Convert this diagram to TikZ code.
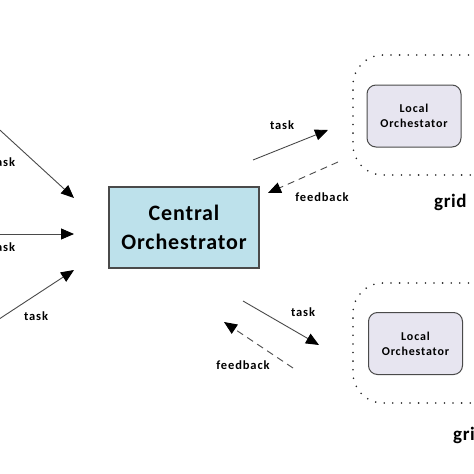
\documentclass[tikz,border=0pt]{standalone}
\usepackage{fontspec}
\setmainfont{Carlito}
\newfontfamily\bigsp[LetterSpace=4]{Carlito}
\newfontfamily\smallsp[LetterSpace=7]{Carlito}
\newfontfamily\gridsp[LetterSpace=3]{Carlito}
\usetikzlibrary{arrows.meta}
\definecolor{cbox}{HTML}{BDE1EB}
\definecolor{lbox}{HTML}{E7E5F0}
\definecolor{edge}{HTML}{4A4A4A}
\tikzset{
  centralbox/.style={draw=edge, line width=1.1pt, fill=cbox, minimum width=150pt, minimum height=81pt, inner sep=0pt, align=center, font=\bigsp\fontsize{22}{28.5}\selectfont\bfseries},
  localbox/.style={draw=edge, line width=1pt, fill=lbox, rounded corners=9pt, minimum width=94pt, minimum height=62pt, inner sep=0pt, align=center, font=\smallsp\fontsize{12}{15}\selectfont\bfseries},
  region/.style={draw=black!85, line width=1.8pt, line cap=round, dash pattern=on 0pt off 8.6pt, rounded corners=30pt},
  lbl/.style={font=\smallsp\fontsize{12.5}{14}\selectfont\bfseries, inner sep=0pt},
  gridlbl/.style={font=\gridsp\fontsize{19}{22}\selectfont\bfseries, inner sep=0pt, anchor=base west},
  taskarrow/.style={draw=edge, line width=0.9pt, -{Triangle[length=13pt,width=11pt,color=black]}},
  fbarrow/.style={draw=edge, line width=0.9pt, dash pattern=on 7pt off 5pt, -{Triangle[length=13pt,width=11pt,color=black]}}
}
\begin{document}
\begin{tikzpicture}[x=1pt,y=-1pt]
\useasboundingbox (0,0) rectangle (474,474);
\clip (0,0) rectangle (474,474);
% regions
\draw[region] (520,55) -- (353,55) -- (353,175) -- (520,175);
\draw[region] (520,283) -- (353,283) -- (353,403) -- (520,403);
% nodes
\node[centralbox] (central) at (184,227.5) {Central\\Orchestrator};
\node[localbox] (local1) at (414,116) {Local\\Orchestator};
\node[localbox] (local2) at (415.5,343.5) {Local\\Orchestator};
\node[gridlbl] (grid1) at (434,207) {grid};
\node[gridlbl] (grid2) at (453,440) {grid};
% left inputs
\coordinate (s1) at (-10,121);
\coordinate (e1) at (74,198);
\coordinate (s2) at (-10,234);
\coordinate (e2) at (74,234);
\coordinate (s3) at (-10,325);
\coordinate (e3) at (74,270);
\draw[taskarrow] (s1) -- (e1);
\draw[taskarrow] (s2) -- (e2);
\draw[taskarrow] (s3) -- (e3);
\node[lbl] (t1) at (3,162) {task};
\node[lbl] (t2) at (3,247) {task};
\node[lbl] (t3) at (36,316) {task};
% top right
\coordinate (a1) at (253,160);
\coordinate (b1) at (328,130);
\coordinate (c1) at (338,162);
\coordinate (d1) at (268,193);
\draw[taskarrow] (a1) -- (b1);
\draw[fbarrow] (c1) -- (d1);
\node[lbl] (t4) at (282,125) {task};
\node[lbl] (f1) at (322,197) {feedback};
% bottom right
\coordinate (a2) at (243,301);
\coordinate (b2) at (319,345);
\coordinate (c2) at (293,368);
\coordinate (d2) at (224,322);
\draw[taskarrow] (a2) -- (b2);
\draw[fbarrow] (c2) -- (d2);
\node[lbl] (t5) at (303,312) {task};
\node[lbl] (f2) at (243,365) {feedback};
\end{tikzpicture}
\end{document}
